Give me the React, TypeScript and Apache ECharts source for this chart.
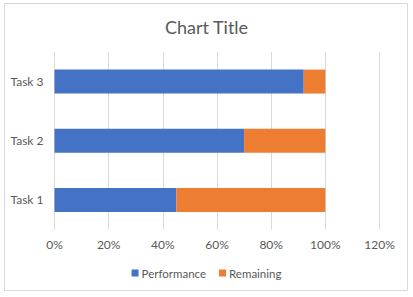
import React, { useEffect, useRef } from "react";
import * as echarts from "echarts";

const categories = ["Task 1", "Task 2", "Task 3"];
const performance = [0.45, 0.7, 0.92];
const remaining = [0.55, 0.3, 0.08];
const xTicks = [0, 0.2, 0.4, 0.6, 0.8, 1.0, 1.2];

export default function App() {
  const ref = useRef<HTMLDivElement>(null);
  useEffect(() => {
    const chart = echarts.init(ref.current!, null, { renderer: "svg" });
    const font = "Lato, 'Open Sans', sans-serif";
    chart.setOption({
      animation: false,
      backgroundColor: "#ffffff",
      textStyle: { fontFamily: font },
      title: {
        text: "Chart Title",
        left: "center",
        top: 13,
        textStyle: { fontFamily: font, fontSize: 18, fontWeight: "normal", color: "#595959" },
      },
      graphic: [
        {
          type: "rect",
          shape: { x: 4.5, y: 3.5, width: 403, height: 287 },
          style: { fill: "none", stroke: "#d9d9d9", lineWidth: 1 },
          silent: true,
        },
      ],
      legend: {
        top: 262,
        left: "center",
        icon: "rect",
        itemWidth: 7,
        itemHeight: 7,
        itemGap: 13,
        textStyle: { fontFamily: font, fontSize: 11.5, color: "#595959", padding: [0, 0, 0, -2] },
        data: ["Performance", "Remaining"],
      },
      grid: { left: 54.5, right: 33.5, top: 52, bottom: 67.5, containLabel: false },
      xAxis: {
        type: "value",
        min: xTicks[0],
        max: xTicks[xTicks.length - 1],
        interval: 0.2,
        axisLine: { show: false },
        axisTick: { show: false },
        splitLine: { lineStyle: { color: "#d9d9d9", width: 1 } },
        axisLabel: {
          fontFamily: font,
          fontSize: 12,
          color: "#595959",
          margin: 9,
          formatter: (v: number) => Math.round(v * 100) + "%",
        },
      },
      yAxis: {
        type: "category",
        data: categories,
        axisLine: { show: false },
        axisTick: { show: false },
        axisLabel: { fontFamily: font, fontSize: 12, color: "#595959", margin: 11 },
      },
      series: [
        {
          name: "Performance",
          type: "bar",
          stack: "total",
          barWidth: "40.5%",
          data: performance,
          itemStyle: { color: "#4472c4" },
        },
        {
          name: "Remaining",
          type: "bar",
          stack: "total",
          barWidth: "40.5%",
          data: remaining,
          itemStyle: { color: "#ed7d31" },
        },
      ],
    });
    return () => chart.dispose();
  }, []);
  return (
    <div
      ref={ref}
      style={{ position: "fixed", left: 0, top: 0, width: 413, height: 297, background: "#fff" }}
    />
  );
}
